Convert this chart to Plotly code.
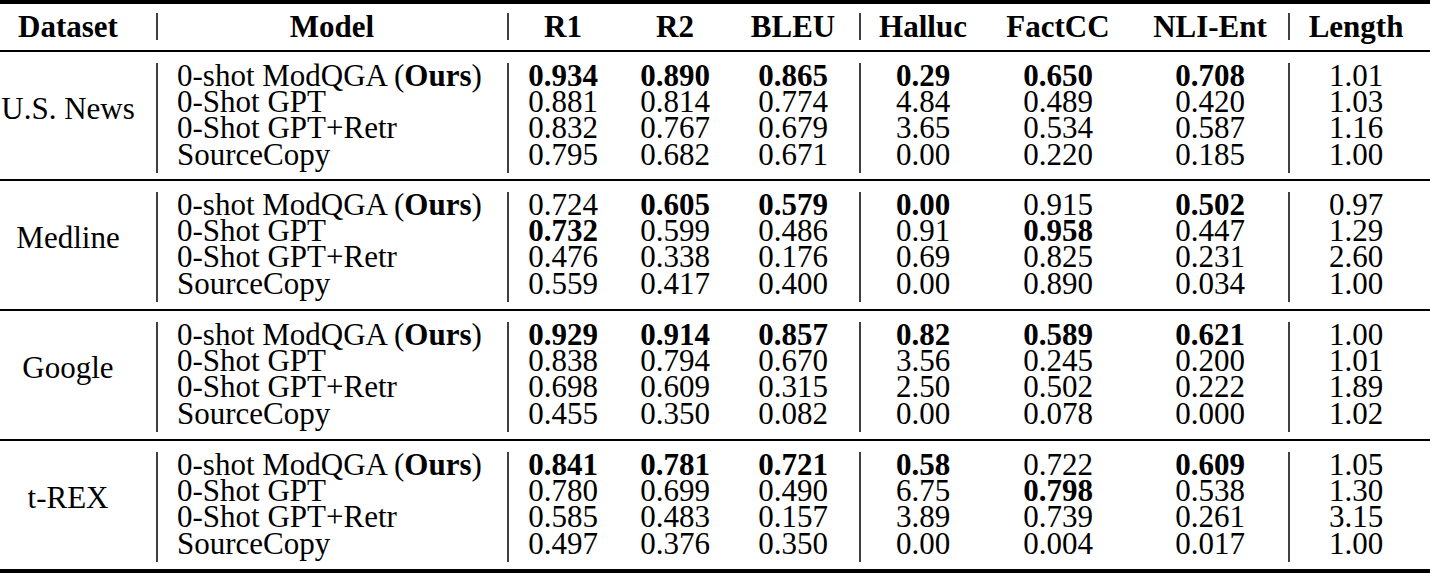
import plotly.graph_objects as go

# Table data
datasets = ["U.S. News", "Medline", "Google", "t-REX"]
models = ["0-shot ModQGA (<b>Ours</b>)", "0-Shot GPT", "0-Shot GPT+Retr", "SourceCopy"]
metrics = ["R1", "R2", "BLEU", "Halluc", "FactCC", "NLI-Ent", "Length"]

r1 = [[0.934, 0.881, 0.832, 0.795], [0.724, 0.732, 0.476, 0.559],
      [0.929, 0.838, 0.698, 0.455], [0.841, 0.780, 0.585, 0.497]]
r2 = [[0.890, 0.814, 0.767, 0.682], [0.605, 0.599, 0.338, 0.417],
      [0.914, 0.794, 0.609, 0.350], [0.781, 0.699, 0.483, 0.376]]
bleu = [[0.865, 0.774, 0.679, 0.671], [0.579, 0.486, 0.176, 0.400],
        [0.857, 0.670, 0.315, 0.082], [0.721, 0.490, 0.157, 0.350]]
halluc = [[0.29, 4.84, 3.65, 0.00], [0.00, 0.91, 0.69, 0.00],
          [0.82, 3.56, 2.50, 0.00], [0.58, 6.75, 3.89, 0.00]]
factcc = [[0.650, 0.489, 0.534, 0.220], [0.915, 0.958, 0.825, 0.890],
          [0.589, 0.245, 0.502, 0.078], [0.722, 0.798, 0.739, 0.004]]
nli_ent = [[0.708, 0.420, 0.587, 0.185], [0.502, 0.447, 0.231, 0.034],
           [0.621, 0.200, 0.222, 0.000], [0.609, 0.538, 0.261, 0.017]]
length = [[1.01, 1.03, 1.16, 1.00], [0.97, 1.29, 2.60, 1.00],
          [1.00, 1.01, 1.89, 1.02], [1.05, 1.30, 3.15, 1.00]]

# index of the bold (best) model per dataset, None = no bold
best_r1 = [0, 1, 0, 0]
best_r2 = [0, 0, 0, 0]
best_bleu = [0, 0, 0, 0]
best_halluc = [0, 0, 0, 0]
best_factcc = [0, 1, 0, 1]
best_nli = [0, 0, 0, 0]
best_length = [None, None, None, None]

columns = [r1, r2, bleu, halluc, factcc, nli_ent, length]
bests = [best_r1, best_r2, best_bleu, best_halluc, best_factcc, best_nli, best_length]
decimals = [3, 3, 3, 2, 3, 3, 2]

# layout (pixel coords)
W, H = 1430, 575
FONT = dict(family="Liberation Serif, Times New Roman, serif", size=31, color="black")
col_x = [563, 675, 793, 923, 1058, 1210, 1356]
dataset_x = 68
model_x = 177
model_hdr_x = 332
bar_x = [157, 508, 860, 1289]
header_y = 29
group_top = [51, 180, 310, 440]
bottom_y = 571
row_off = [27, 53.3, 79.6, 106]

fig = go.Figure()

# header
hdr_x = [dataset_x, model_hdr_x] + col_x
hdr_t = ["<b>Dataset</b>", "<b>Model</b>"] + [f"<b>{m}</b>" for m in metrics]
fig.add_trace(go.Scatter(x=hdr_x, y=[header_y] * len(hdr_x), mode="text",
                         text=hdr_t, textfont=FONT, textposition="middle center",
                         hoverinfo="skip"))

# dataset labels
fig.add_trace(go.Scatter(x=[dataset_x] * len(datasets),
                         y=[g + 60 for g in group_top], mode="text",
                         text=datasets, textfont=FONT, hoverinfo="skip"))

# model names
mx, my, mt = [], [], []
for g in group_top:
    for k, m in enumerate(models):
        mx.append(model_x)
        my.append(g + row_off[k])
        mt.append(m)
fig.add_trace(go.Scatter(x=mx, y=my, mode="text", text=mt, textfont=FONT,
                         textposition="middle right", hoverinfo="skip"))

# metric values
for c, (vals, best, dec) in enumerate(zip(columns, bests, decimals)):
    xs, ys, ts = [], [], []
    for d, g in enumerate(group_top):
        for k in range(len(models)):
            s = f"{vals[d][k]:.{dec}f}"
            if best[d] == k:
                s = f"<b>{s}</b>"
            xs.append(col_x[c])
            ys.append(g + row_off[k])
            ts.append(s)
    fig.add_trace(go.Scatter(x=xs, y=ys, mode="text", text=ts, textfont=FONT,
                             textposition="middle center", hoverinfo="skip"))

# rules
shapes = []
shapes.append(dict(type="line", x0=0, x1=W, y0=2, y1=2, line=dict(color="black", width=4)))
for g in group_top:
    shapes.append(dict(type="line", x0=0, x1=W, y0=g, y1=g,
                       line=dict(color="black", width=2)))
shapes.append(dict(type="line", x0=0, x1=W, y0=bottom_y, y1=bottom_y,
                   line=dict(color="black", width=4)))
# vertical bars
for bx in bar_x:
    shapes.append(dict(type="line", x0=bx, x1=bx, y0=13, y1=40,
                       line=dict(color="black", width=1.5)))
    for g in group_top:
        shapes.append(dict(type="line", x0=bx, x1=bx, y0=g + 12, y1=g + 122,
                           line=dict(color="black", width=1.5)))

fig.update_layout(
    width=W, height=H,
    margin=dict(l=0, r=0, t=0, b=0),
    paper_bgcolor="white", plot_bgcolor="white",
    showlegend=False,
    shapes=shapes,
)
fig.update_xaxes(range=[0, W], visible=False, fixedrange=True)
fig.update_yaxes(range=[H, 0], visible=False, fixedrange=True)

fig.write_html("out.html", config={"displayModeBar": False},
               post_script="document.body.style.margin='0';")
